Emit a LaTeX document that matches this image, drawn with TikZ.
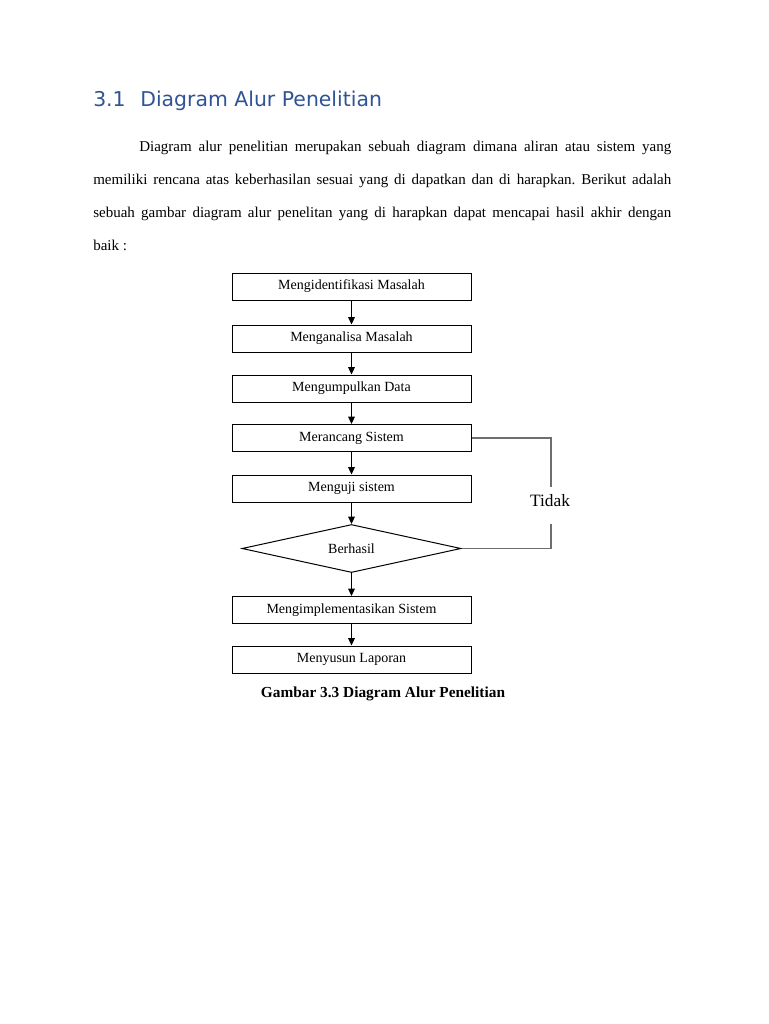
\documentclass[tikz,border=0pt]{standalone}
\usepackage{fontspec}
\setmainfont{Liberation Serif}
\newfontfamily\judulfont{DejaVu Sans}
\usetikzlibrary{arrows.meta,positioning,shapes.geometric}
\definecolor{judulbiru}{RGB}{47,84,150}
\definecolor{garisabu}{RGB}{110,110,110}
\frenchspacing

\begin{document}
\begin{tikzpicture}[x=0.75pt,y=-0.75pt,>={Triangle[length=5.5pt,width=5pt]},
  kotak/.style={draw,line width=0.75pt,minimum width=179.25pt,minimum height=20.25pt,inner sep=0pt,font=\fontsize{10.5}{12}\selectfont},
  belah/.style={draw,diamond,aspect=4.5,line width=0.75pt,minimum width=164.25pt,minimum height=36pt,inner sep=0pt,font=\fontsize{10.5}{12}\selectfont},
  panah/.style={->,line width=0.75pt},
  baliknya/.style={draw=garisabu,line width=0.9pt}]
  \useasboundingbox (0,0) rectangle (768,1024);
  % Judul dan paragraf
  \node[anchor=base west,inner sep=0pt,text=judulbiru,font=\judulfont\fontsize{15.3}{18}\selectfont] (judul) at (93,106) {3.1\hspace{11pt}Diagram Alur Penelitian};
  \node[anchor=base west,inner sep=0pt,text width=433.5pt,align=justify,font=\fontsize{11.25}{24.75}\selectfont] (paragraf) at (93,151)
    {\hspace*{34.5pt}Diagram alur penelitian merupakan sebuah diagram dimana aliran atau sistem yang\linebreak
     memiliki rencana atas keberhasilan sesuai yang di dapatkan dan di harapkan. Berikut adalah\linebreak
     sebuah gambar diagram alur penelitan yang di harapkan dapat mencapai hasil akhir dengan\linebreak
     baik :};
  % Diagram alur
  \node[kotak] (identifikasi) at (351.5,286.5) {Mengidentifikasi Masalah};
  \node[kotak] (analisa) at (351.5,338.5) {Menganalisa Masalah};
  \node[kotak] (kumpul) at (351.5,388.5) {Mengumpulkan Data};
  \node[kotak] (rancang) at (351.5,438) {Merancang Sistem};
  \node[kotak] (uji) at (351.5,488.5) {Menguji sistem};
  \node[belah] (berhasil) at (351.5,548.5) {Berhasil};
  \node[kotak] (implementasi) at (351.5,610) {Mengimplementasikan Sistem};
  \node[kotak] (laporan) at (351.5,659.5) {Menyusun Laporan};
  \foreach \a/\b in {identifikasi/analisa,analisa/kumpul,kumpul/rancang,rancang/uji,uji/berhasil,berhasil/implementasi,implementasi/laporan}
    \draw[panah] (\a) -- (\b);
  % cabang Tidak
  \coordinate (tAtas) at (551,487);
  \coordinate (tBawah) at (551,524);
  \node[font=\fontsize{13}{15}\selectfont,inner sep=0pt] (tidak) at (550,501) {Tidak};
  \draw[baliknya] (rancang.east) -| (tAtas);
  \draw[baliknya] (tBawah) |- (berhasil.east);
  % Keterangan gambar
  \node[anchor=base,inner sep=0pt,font=\bfseries\fontsize{11.5}{14}\selectfont] (keterangan) at (383,697) {Gambar 3.3 Diagram Alur Penelitian};
\end{tikzpicture}
\end{document}
